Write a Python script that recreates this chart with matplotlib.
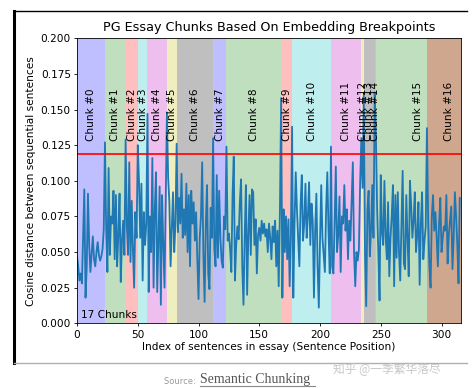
import numpy as np
import matplotlib
matplotlib.use("Agg")
import matplotlib.pyplot as plt
from matplotlib.lines import Line2D

# cosine distance between sentence i and i+1
distances = [
    0.047, 0.040, 0.030, 0.035, 0.028, 0.060, 0.094, 0.018, 0.040, 0.091,
    0.055, 0.036, 0.048, 0.061, 0.045, 0.040, 0.050, 0.057, 0.048, 0.044,
    0.047, 0.052, 0.066, 0.127, 0.066, 0.036, 0.109, 0.048, 0.075, 0.070,
    0.093, 0.045, 0.090, 0.040, 0.062, 0.091, 0.029, 0.058, 0.072, 0.048,
    0.129, 0.069, 0.048, 0.113, 0.043, 0.086, 0.052, 0.025, 0.078, 0.060,
    0.125, 0.100, 0.060, 0.098, 0.030, 0.078, 0.055, 0.070, 0.147, 0.022,
    0.075, 0.050, 0.116, 0.025, 0.080, 0.106, 0.022, 0.060, 0.096, 0.013,
    0.090, 0.055, 0.025, 0.085, 0.148, 0.102, 0.085, 0.040, 0.066, 0.092,
    0.050, 0.070, 0.126, 0.064, 0.088, 0.070, 0.105, 0.060, 0.080, 0.062,
    0.098, 0.050, 0.090, 0.040, 0.093, 0.070, 0.085, 0.058, 0.078, 0.045,
    0.017, 0.060, 0.075, 0.113, 0.048, 0.015, 0.070, 0.097, 0.035, 0.024,
    0.081, 0.060, 0.130, 0.052, 0.040, 0.104, 0.046, 0.093, 0.060, 0.044,
    0.039, 0.075, 0.066, 0.124, 0.058, 0.063, 0.052, 0.036, 0.090, 0.117,
    0.030, 0.055, 0.068, 0.059, 0.085, 0.101, 0.040, 0.013, 0.060, 0.097,
    0.020, 0.062, 0.090, 0.048, 0.094, 0.092, 0.055, 0.073, 0.035, 0.062,
    0.067, 0.058, 0.072, 0.063, 0.070, 0.061, 0.066, 0.050, 0.070, 0.060,
    0.045, 0.068, 0.057, 0.072, 0.040, 0.065, 0.026, 0.080, 0.158, 0.018,
    0.080, 0.050, 0.075, 0.045, 0.073, 0.026, 0.060, 0.138, 0.018, 0.070,
    0.106, 0.080, 0.060, 0.040, 0.083, 0.104, 0.058, 0.070, 0.098, 0.060,
    0.075, 0.099, 0.055, 0.084, 0.072, 0.018, 0.065, 0.091, 0.040, 0.011,
    0.058, 0.097, 0.060, 0.048, 0.036, 0.080, 0.106, 0.064, 0.035, 0.124,
    0.040, 0.035, 0.070, 0.110, 0.050, 0.062, 0.089, 0.036, 0.075, 0.070,
    0.097, 0.065, 0.080, 0.045, 0.072, 0.058, 0.085, 0.113, 0.050, 0.026,
    0.050, 0.044, 0.052, 0.098, 0.130, 0.095, 0.160, 0.050, 0.012, 0.080,
    0.093, 0.047, 0.066, 0.097, 0.060, 0.162, 0.132, 0.080, 0.050, 0.016,
    0.104, 0.064, 0.055, 0.100, 0.061, 0.045, 0.085, 0.033, 0.060, 0.075,
    0.097, 0.026, 0.090, 0.046, 0.092, 0.050, 0.030, 0.070, 0.107, 0.042,
    0.038, 0.090, 0.060, 0.033, 0.100, 0.083, 0.060, 0.072, 0.092, 0.050,
    0.062, 0.085, 0.027, 0.070, 0.092, 0.045, 0.058, 0.068, 0.137, 0.072,
    0.040, 0.025, 0.075, 0.090, 0.065, 0.078, 0.060, 0.040, 0.070, 0.088,
    0.050, 0.060, 0.068, 0.065, 0.090, 0.042, 0.062, 0.072, 0.082, 0.038,
    0.060, 0.092, 0.075, 0.055, 0.028, 0.088,
]
threshold = 0.119
y_upper_bound = 0.2
colors = ['b', 'g', 'r', 'c', 'm', 'y', 'k']

fig = plt.figure(figsize=(4.74, 3.88), dpi=100)
ax = fig.add_axes([0.1625, 0.1667, 0.81, 0.7346])

ax.plot(distances, color='#1f77b4', lw=1.3)
ax.set_ylim(0, y_upper_bound)
ax.set_xlim(0, len(distances))
ax.axhline(y=threshold, color='r', linestyle='-', lw=1.2)

indices_above_thresh = [i for i, d in enumerate(distances) if d > threshold]
fs = 7.6
for i, bp in enumerate(indices_above_thresh):
    start = 0 if i == 0 else indices_above_thresh[i - 1]
    end = bp if i < len(indices_above_thresh) - 1 else len(distances)
    ax.axvspan(start, end, facecolor=colors[i % len(colors)], alpha=0.25, lw=0)
    ax.text(np.average([start, end]), threshold + y_upper_bound / 20, f"Chunk #{i}",
            ha='center', rotation='vertical', fontsize=fs)

# shade the last piece after the final breakpoint
last = indices_above_thresh[-1]
ax.axvspan(last, len(distances), facecolor=colors[len(indices_above_thresh) % len(colors)],
           alpha=0.25, lw=0)
ax.text(np.average([last, len(distances)]), threshold + y_upper_bound / 20,
        f"Chunk #{len(indices_above_thresh)}", rotation='vertical', fontsize=fs)

ax.text(len(distances) * .01, y_upper_bound / 50, f"{len(indices_above_thresh) + 1} Chunks",
        fontsize=fs)

ax.set_yticks(np.arange(0, 0.201, 0.025))
ax.yaxis.set_major_formatter(matplotlib.ticker.FormatStrFormatter('%.3f'))
ax.tick_params(labelsize=fs, length=2.5, width=0.6, pad=2)
for s in ax.spines.values():
    s.set_linewidth(0.6)
ax.set_title("PG Essay Chunks Based On Embedding Breakpoints", fontsize=9.2, pad=5)
ax.set_xlabel("Index of sentences in essay (Sentence Position)", fontsize=fs, labelpad=2)
ax.set_ylabel("Cosine distance between sequential sentences", fontsize=fs, labelpad=3)

# screenshot frame around the chart
W, H = 474, 388
def fx(px):
    return px / W
def fy(py):
    return 1 - py / H
fig.add_artist(Line2D([fx(14), fx(14)], [fy(11), fy(363)], color='black', lw=2.2))
fig.add_artist(Line2D([fx(14), fx(467)], [fy(11), fy(11)], color='black', lw=1.0))
fig.add_artist(Line2D([fx(14), fx(467)], [fy(363), fy(363)], color='#b0b0b0', lw=1.0))

fig.text(fx(333), fy(369), "知乎 @一季繁华落尽", fontsize=8.5, color='#c8c8c8',
         family=['Noto Sans CJK SC', 'DejaVu Sans'], va='center')
fig.text(fx(198), fy(381), "Source: ", fontsize=6, color='#999999', ha='right', va='center')
fig.text(fx(200), fy(380), "Semantic Chunking", fontsize=10, color='#555555',
         family='Liberation Serif', va='center')
fig.add_artist(Line2D([fx(200), fx(315)], [fy(386), fy(386)], color='#888888', lw=0.8))

fig.savefig("out.png", dpi=100)
